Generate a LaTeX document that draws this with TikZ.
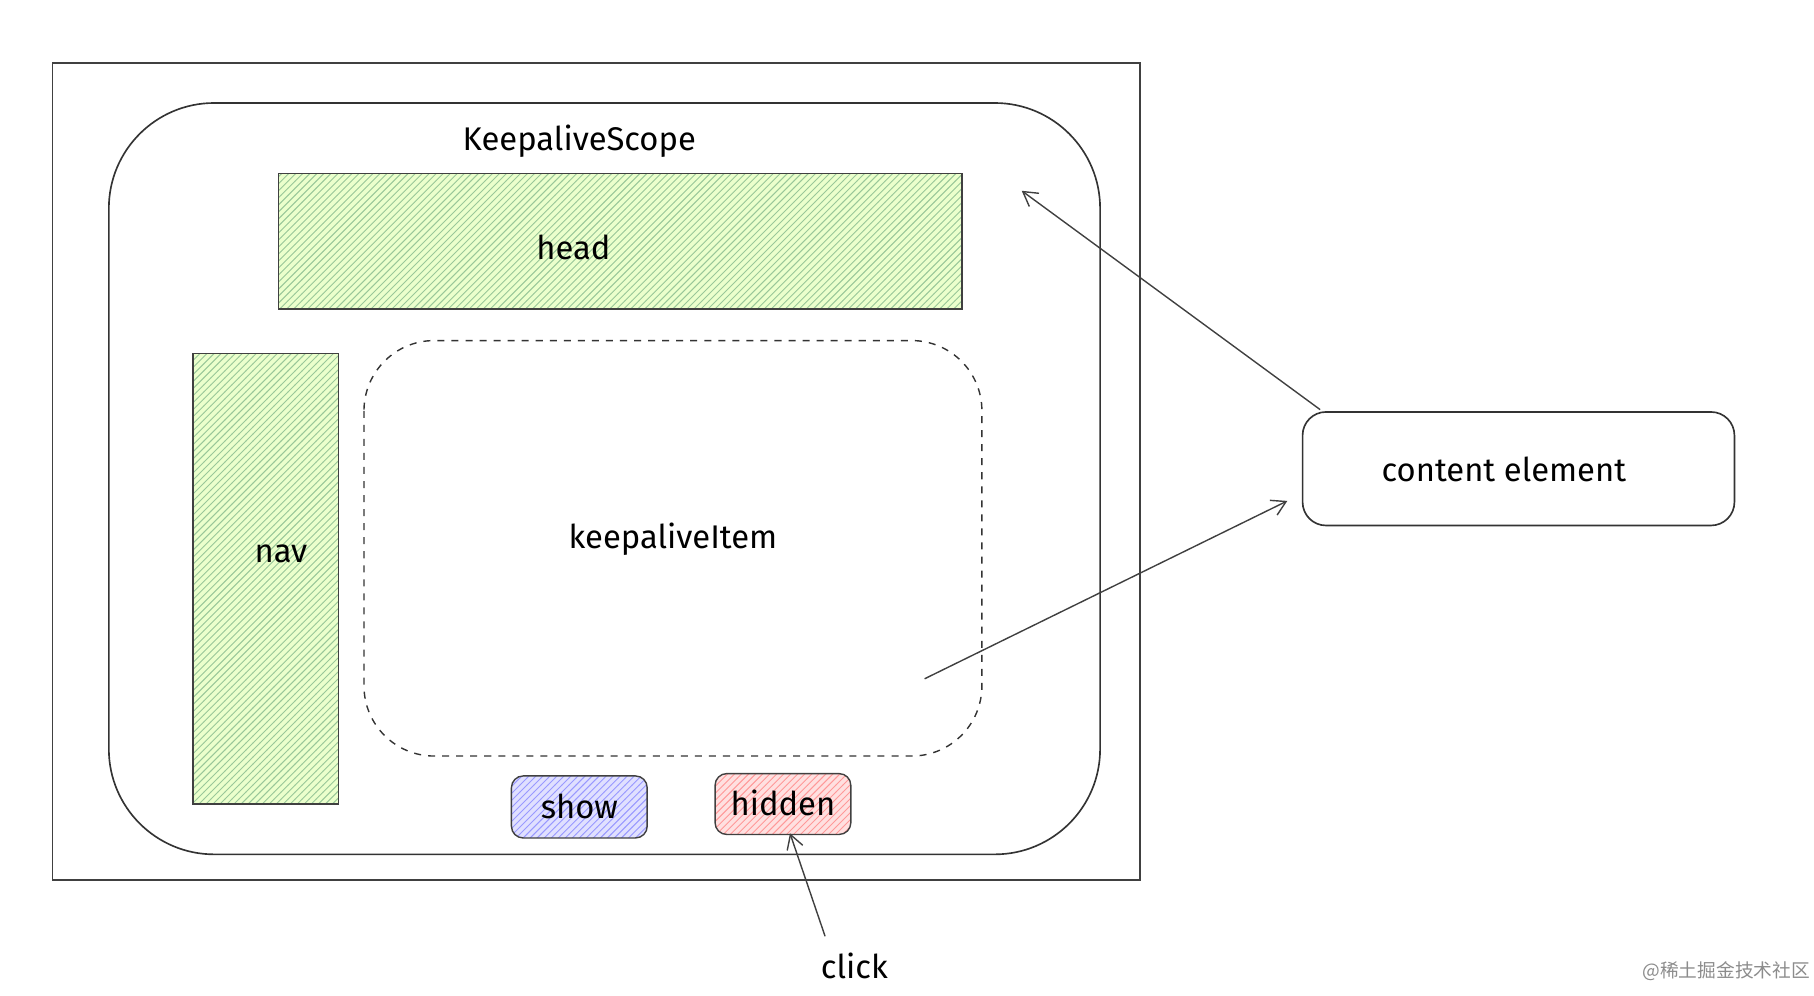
\documentclass[tikz,border=0pt]{standalone}
\usepackage{fontspec}
\setmainfont{Fira Sans}
\newfontfamily\cjk{Noto Sans CJK SC}
\usetikzlibrary{patterns,arrows.meta}
\begin{document}
\begin{tikzpicture}[x=0.5pt,y=-0.5pt,
  lbl/.style={font=\fontsize{14}{16}\selectfont},
  hatch/.style={draw=black!75,line width=0.6pt},
  arr/.style={draw=black!75,line width=0.6pt,-{Straight Barb[length=6pt,width=7pt]}}]
\useasboundingbox (0,0) rectangle (1550,851);
\draw[black!75,line width=0.6pt] (45,54) rectangle (974,752);
\draw[black!80,line width=0.7pt,rounded corners=45pt] (93,88) rectangle (940,730);
\node[lbl] (scope) at (495,121) {KeepaliveScope};
\path[fill=green!45!yellow!25,pattern color=green!50!black!45] (238,148) rectangle (822,264);
\fill[green!40!yellow!20] (238,148) rectangle (822,264);
\path[pattern=north east lines,pattern color=green!45!black!40] (238,148) rectangle (822,264);
\draw[hatch] (238,148) rectangle (822,264);
\node[lbl] (head) at (490,211) {head};
\fill[green!40!yellow!20] (165,302) rectangle (289,687);
\path[pattern=north east lines,pattern color=green!45!black!40] (165,302) rectangle (289,687);
\draw[hatch] (165,302) rectangle (289,687);
\node[lbl] (nav) at (240,473) {nav};
\draw[black!80,dashed,line width=0.6pt,rounded corners=30pt] (311,291) rectangle (839,646);
\node[lbl] (item) at (575,461) {keepaliveItem};
\fill[blue!12] [rounded corners=5pt] (437,663) rectangle (553,716);
\path[pattern=north east lines,pattern color=blue!40,rounded corners=5pt] (437,663) rectangle (553,716);
\draw[hatch,rounded corners=5pt] (437,663) rectangle (553,716);
\node[lbl] (show) at (495,689) {show};
\fill[red!12] [rounded corners=5pt] (611,661) rectangle (727,713);
\path[pattern=north east lines,pattern color=red!40,rounded corners=5pt] (611,661) rectangle (727,713);
\draw[hatch,rounded corners=5pt] (611,661) rectangle (727,713);
\node[lbl] (hidden) at (669,686) {hidden};
\node[lbl] (click) at (730,825) {click};
\draw[black!80,line width=0.7pt,rounded corners=10pt] (1113,352) rectangle (1482,449);
\node[lbl] (content) at (1285,401) {content element};
\coordinate (c1) at (1128,350);
\coordinate (t1) at (873,163);
\coordinate (c2) at (790,580);
\coordinate (t2) at (1100,428);
\coordinate (k1) at (705,800);
\coordinate (t3) at (675,712);
\draw[arr] (c1) -- (t1);
\draw[arr] (c2) -- (t2);
\draw[arr] (k1) -- (t3);
\node[text=black!45,font=\cjk\fontsize{8}{9}\selectfont] (wm) at (1475,830) {@稀土掘金技术社区};
\end{tikzpicture}
\end{document}
